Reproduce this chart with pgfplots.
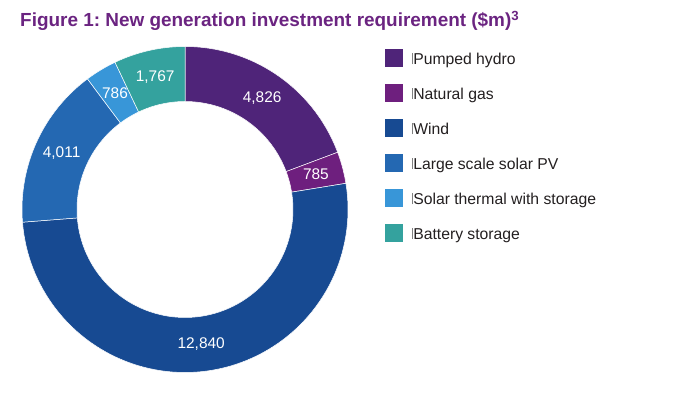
\documentclass[border=0pt]{standalone}
\usepackage{pgfplots}
\pgfplotsset{compat=1.18}
\usepackage{pgfplotstable}
\usepgfplotslibrary{fillbetween}
\usepackage{fontspec}
\setmainfont{Liberation Sans}
\frenchspacing

\definecolor{cPH}{HTML}{4F2479}
\definecolor{cNG}{HTML}{6E1F7E}
\definecolor{cW}{HTML}{174A92}
\definecolor{cPV}{HTML}{2468B2}
\definecolor{cST}{HTML}{3896D8}
\definecolor{cBS}{HTML}{34A29E}
\definecolor{ctitle}{HTML}{6B2481}
\definecolor{ctext}{HTML}{231F20}

\pgfplotstableread{
name value
PH 4826
NG 785
W 12840
PV 4011
ST 786
BS 1767
}\donutdata

\pgfplotstablegetelem{0}{value}\of\donutdata \edef\vA{\pgfplotsretval}
\pgfplotstablegetelem{1}{value}\of\donutdata \edef\vB{\pgfplotsretval}
\pgfplotstablegetelem{2}{value}\of\donutdata \edef\vC{\pgfplotsretval}
\pgfplotstablegetelem{3}{value}\of\donutdata \edef\vD{\pgfplotsretval}
\pgfplotstablegetelem{4}{value}\of\donutdata \edef\vE{\pgfplotsretval}
\pgfplotstablegetelem{5}{value}\of\donutdata \edef\vF{\pgfplotsretval}
\edef\tot{\fpeval{\vA+\vB+\vC+\vD+\vE+\vF}}
% boundary angles (clockwise from top)
\edef\aO{90}
\edef\aA{\fpeval{90-360*(\vA)/\tot}}
\edef\aB{\fpeval{90-360*(\vA+\vB)/\tot}}
\edef\aC{\fpeval{90-360*(\vA+\vB+\vC)/\tot}}
\edef\aD{\fpeval{90-360*(\vA+\vB+\vC+\vD)/\tot}}
\edef\aE{\fpeval{90-360*(\vA+\vB+\vC+\vD+\vE)/\tot}}
\edef\aF{-270}

\def\cx{185}
\def\cy{195.5}
\def\Ro{163}
\def\Ri{108}
\def\Rl{135.5}

% sector: #1 name, #2 from angle (lower), #3 to angle (upper), #4 colour
\newcommand\sector[4]{%
  \addplot[name path=o#1, draw=none, forget plot, domain=#2:#3, samples=90]
    ({\cx+\Ro*cos(x)},{\cy+\Ro*sin(x)});
  \addplot[name path=i#1, draw=none, forget plot, domain=#2:#3, samples=90]
    ({\cx+\Ri*cos(x)},{\cy+\Ri*sin(x)});
  \addplot[fill=#4, draw=white, line width=0.5bp, forget plot] fill between[of=o#1 and i#1];
}
\newcommand\seglabel[3]{%
  \node[text=white, inner sep=0pt, font=\fontsize{15.5}{18}\selectfont]
    at (axis cs:{\cx+\Rl*cos((#1+#2)/2)},{\cy+\Rl*sin((#1+#2)/2)}) {#3};
}
\newcommand\legbar{{\color{black!50}\rule{0.45bp}{11bp}}\hspace{0.8bp}}

\begin{document}
\begin{tikzpicture}
\begin{axis}[
  width=688bp, height=405bp, scale only axis,
  xmin=0, xmax=688, ymin=0, ymax=405,
  axis lines=none, ticks=none, clip=false,
  legend style={at={(axis cs:385,356)}, anchor=north west, draw=none, fill=none,
    inner sep=0pt, outer sep=0pt, row sep=17bp, column sep=9bp,
    font=\fontsize{15.8}{18}\selectfont, text=ctext,
    nodes={inner sep=0pt, text height=15.5bp, text depth=2.5bp}},
  legend cell align=left,
  legend image code/.code={\fill[#1] (0bp,-9bp) rectangle (18bp,9bp);},
]
\addplot[draw=none, forget plot] coordinates {(0,0) (688,405)};

\sector{A}{\aA}{\aO}{cPH}
\sector{B}{\aB}{\aA}{cNG}
\sector{C}{\aC}{\aB}{cW}
\sector{D}{\aD}{\aC}{cPV}
\sector{E}{\aE}{\aD}{cST}
\sector{F}{\aF}{\aE}{cBS}

\seglabel{\aA}{\aO}{4,826}
\seglabel{\aB}{\aA}{785}
\seglabel{\aC}{\aB}{12,840}
\seglabel{\aD}{\aC}{4,011}
\seglabel{\aE}{\aD}{786}
\seglabel{\aF}{\aE}{1,767}

\addlegendimage{fill=cPH, draw=none}
\addlegendentry{\legbar Pumped hydro}
\addlegendimage{fill=cNG, draw=none}
\addlegendentry{\legbar Natural gas}
\addlegendimage{fill=cW, draw=none}
\addlegendentry{\legbar Wind}
\addlegendimage{fill=cPV, draw=none}
\addlegendentry{\legbar Large scale solar PV}
\addlegendimage{fill=cST, draw=none}
\addlegendentry{\legbar Solar thermal with storage}
\addlegendimage{fill=cBS, draw=none}
\addlegendentry{\legbar Battery storage}

\node[anchor=base west, inner sep=0pt, text=ctitle, font=\bfseries\fontsize{19}{22}\selectfont]
  at (axis cs:20,378.3) {Figure 1: New generation investment requirement (\$m)\textsuperscript{3}};
\end{axis}
\end{tikzpicture}
\end{document}
